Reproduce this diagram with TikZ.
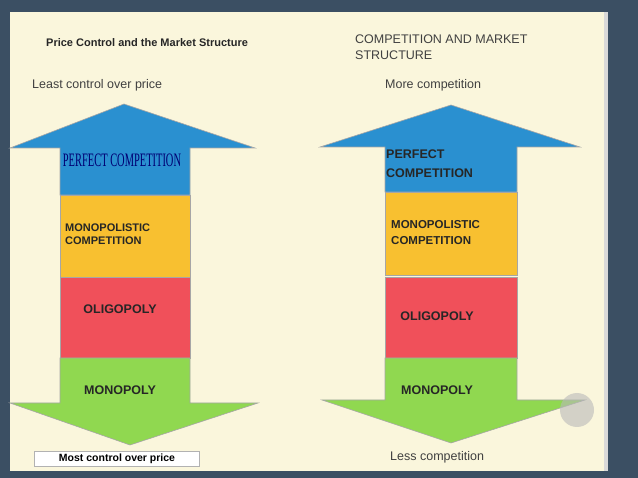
\documentclass[tikz,border=0pt]{standalone}
\usepackage{fontspec}
\setmainfont{Liberation Sans}
\newfontfamily\condserif{Liberation Serif}
\definecolor{bgdark}{HTML}{3B4F63}
\definecolor{panel}{HTML}{FAF6DC}
\definecolor{pblue}{HTML}{2A90D0}
\definecolor{pyellow}{HTML}{F8C030}
\definecolor{pred}{HTML}{F0505A}
\definecolor{pgreen}{HTML}{90D850}
\tikzset{
  seg/.style={draw=black!35, line width=0.6pt},
  lbl/.style={font=\bfseries\fontsize{11}{13}\selectfont, text=black!85, inner sep=0pt},
  captxt/.style={font=\fontsize{12.5}{14}\selectfont, text=black!75, inner sep=0pt},
}
\begin{document}
\begin{tikzpicture}[x=1pt,y=-1pt]
\useasboundingbox (0,0) rectangle (638,478);
\fill[bgdark] (0,0) rectangle (638,478);
\fill[panel] (10,12) rectangle (606,471);
\fill[black!15] (604,12) rectangle (608,471);
% left arrow
\fill[pblue,seg] (60,195) -- (60,148) -- (10,148) -- (124,104) -- (255,148) -- (190,148) -- (190,195) -- cycle;
\fill[pyellow,seg] (60,195) rectangle (190,277);
\fill[pred,seg] (60,277) rectangle (190,358);
\fill[pgreen,seg] (60,358) -- (60,403) -- (10,403) -- (130,445) -- (258,403) -- (190,403) -- (190,358) -- cycle;
% right arrow
\fill[pblue,seg] (385,192) -- (385,147) -- (320,147) -- (451,105) -- (580,147) -- (517,147) -- (517,192) -- cycle;
\fill[pyellow,seg] (385,192) rectangle (517,275);
\fill[pred,seg] (385,277) rectangle (517,358);
\fill[pgreen,seg] (385,358) -- (385,400) -- (322,400) -- (451,443) -- (585,400) -- (517,400) -- (517,358) -- cycle;
\fill[gray!55,opacity=0.6] (577,410) circle (17);
% texts
\node[lbl,font=\bfseries\fontsize{11}{13}\selectfont,anchor=west] (t1) at (46,43) {Price Control and the Market Structure};
\node[captxt,anchor=north west,align=left,font=\fontsize{12.5}{16}\selectfont] (t2) at (355,35) {COMPETITION AND MARKET\\STRUCTURE};
\node[captxt,anchor=west] (lc) at (32,85) {Least control over price};
\node[captxt,anchor=west] (mc) at (385,85) {More competition};
\node[captxt,anchor=west] (lsc) at (390,457) {Less competition};
\node[fill=white,draw=black!30,minimum width=165pt,minimum height=15pt,inner sep=0pt,font=\bfseries\fontsize{10.5}{12}\selectfont] (mcp) at (117,459) {Most control over price};
\node[inner sep=0pt,text=blue!45!black] (pc1) at (122,160) {\condserif\scalebox{0.55}[1]{\fontsize{19}{20}\selectfont PERFECT COMPETITION}};
\node[lbl,anchor=west,align=left] (mp1) at (65,234) {MONOPOLISTIC\\COMPETITION};
\node[lbl,font=\bfseries\fontsize{12.5}{15}\selectfont] (ol1) at (120,309) {OLIGOPOLY};
\node[lbl,font=\bfseries\fontsize{12.5}{15}\selectfont] (mo1) at (120,390) {MONOPOLY};
\node[lbl,anchor=west,align=left,font=\bfseries\fontsize{12.5}{19}\selectfont] (pc2) at (386,164) {PERFECT\\COMPETITION};
\node[lbl,anchor=west,align=left,font=\bfseries\fontsize{11.5}{16}\selectfont] (mp2) at (391,233) {MONOPOLISTIC\\COMPETITION};
\node[lbl,font=\bfseries\fontsize{12.5}{15}\selectfont] (ol2) at (437,316) {OLIGOPOLY};
\node[lbl,font=\bfseries\fontsize{12.5}{15}\selectfont] (mo2) at (437,390) {MONOPOLY};
\end{tikzpicture}
\end{document}
